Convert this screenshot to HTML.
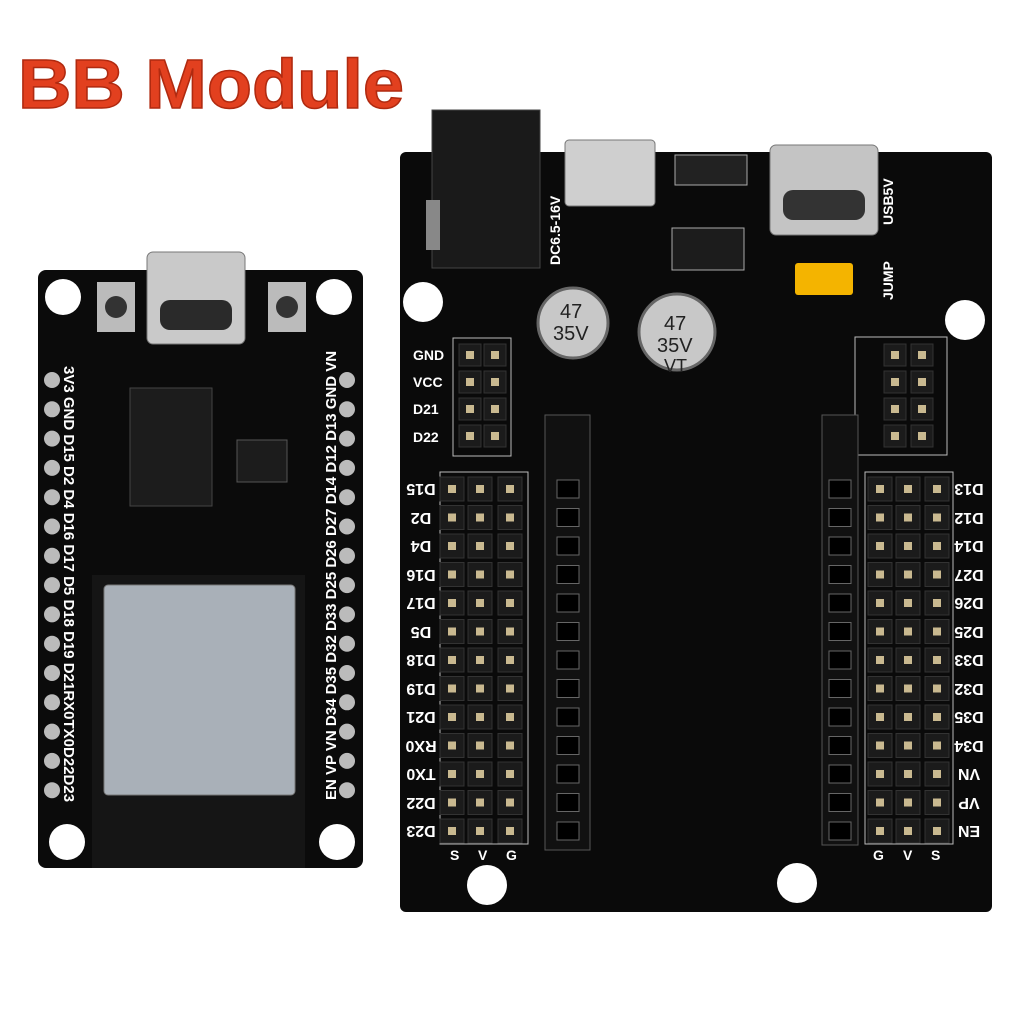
<!DOCTYPE html>
<html><head><meta charset="utf-8"><style>
html,body{margin:0;padding:0;background:#fff;width:1024px;height:1024px;overflow:hidden}
svg{display:block}
.t{font-family:"Liberation Sans",sans-serif;font-weight:bold;fill:#fff}
.r text{text-anchor:middle}
</style></head><body>
<svg id="s" width="1024" height="1024" viewBox="0 0 1024 1024" xmlns="http://www.w3.org/2000/svg">
<rect width="1024" height="1024" fill="#fff"/>
<text x="18" y="108" font-family="Liberation Sans, sans-serif" font-weight="bold" font-size="70" fill="#e2401f" stroke="#b02a10" stroke-width="1.5" textLength="386" lengthAdjust="spacingAndGlyphs">BB Module</text>

<!-- LEFT BOARD -->
<rect x="38" y="270" width="325" height="598" rx="8" fill="#0b0b0b"/>
<rect x="147" y="252" width="98" height="92" rx="6" fill="#c9c9c9" stroke="#777"/>
<rect x="160" y="300" width="72" height="30" rx="10" fill="#2a2a2a"/>
<rect x="97" y="282" width="38" height="50" fill="#bbb"/><circle cx="116" cy="307" r="11" fill="#333"/>
<rect x="268" y="282" width="38" height="50" fill="#bbb"/><circle cx="287" cy="307" r="11" fill="#333"/>
<circle cx="63" cy="297" r="18" fill="#fff"/><circle cx="334" cy="297" r="18" fill="#fff"/>
<circle cx="67" cy="842" r="18" fill="#fff"/><circle cx="337" cy="842" r="18" fill="#fff"/>
<rect x="130" y="388" width="82" height="118" fill="#1c1c1c" stroke="#444"/>
<rect x="237" y="440" width="50" height="42" fill="#1c1c1c" stroke="#555"/>
<rect x="92" y="575" width="213" height="293" fill="#151515"/>
<rect x="104" y="585" width="191" height="210" rx="4" fill="#a9b0b8" stroke="#777"/>
<g id="lp"></g>
<g class="t" font-size="15">
<text transform="translate(64,366) rotate(90)">3V3 GND D15 D2  D4 D16 D17 D5 D18 D19 D21RX0TX0D22D23</text>
<text transform="translate(336,800) rotate(-90)">EN  VP  VN D34 D35 D32 D33 D25 D26 D27 D14 D12 D13 GND VN</text>
</g>

<!-- RIGHT BOARD -->
<rect x="400" y="152" width="592" height="760" rx="6" fill="#0a0a0a"/>
<rect x="432" y="110" width="108" height="158" fill="#1a1a1a" stroke="#444"/>
<rect x="426" y="200" width="14" height="50" fill="#888"/>
<rect x="565" y="140" width="90" height="66" rx="4" fill="#cfcfcf" stroke="#777"/>
<rect x="770" y="145" width="108" height="90" rx="6" fill="#c4c4c4" stroke="#777"/>
<rect x="783" y="190" width="82" height="30" rx="10" fill="#333"/>
<rect x="675" y="155" width="72" height="30" fill="#222" stroke="#aaa"/>
<rect x="672" y="228" width="72" height="42" fill="#1c1c1c" stroke="#aaa"/>
<rect x="795" y="263" width="58" height="32" rx="3" fill="#f4b400"/>
<circle cx="423" cy="302" r="20" fill="#fff"/><circle cx="965" cy="320" r="20" fill="#fff"/>
<circle cx="487" cy="885" r="20" fill="#fff"/><circle cx="797" cy="883" r="20" fill="#fff"/>
<circle cx="573" cy="323" r="35" fill="#c8c8c8" stroke="#666" stroke-width="3"/>
<circle cx="677" cy="332" r="38" fill="#c8c8c8" stroke="#666" stroke-width="3"/>
<g font-family="Liberation Sans,sans-serif" font-size="20" fill="#222"><text x="560" y="318">47</text><text x="553" y="340">35V</text><text x="664" y="330">47</text><text x="657" y="352">35V</text><text x="664" y="372" font-size="18">VT</text></g>
<rect x="453" y="338" width="58" height="118" fill="none" stroke="#bbb"/>
<rect x="855" y="337" width="92" height="118" fill="none" stroke="#bbb"/>
<rect x="440" y="472" width="88" height="372" fill="none" stroke="#bbb"/>
<rect x="865" y="472" width="88" height="372" fill="none" stroke="#bbb"/>
<rect x="545" y="415" width="45" height="435" fill="#111" stroke="#555"/>
<rect x="822" y="415" width="36" height="430" fill="#111" stroke="#555"/>
<g id="rp"></g>
<g class="t" font-size="14">
<text x="413" y="360">GND</text><text x="413" y="387">VCC</text><text x="413" y="414">D21</text><text x="413" y="442">D22</text>
<text x="450" y="860">S</text><text x="478" y="860">V</text><text x="506" y="860">G</text>
<text x="873" y="860">G</text><text x="903" y="860">V</text><text x="931" y="860">S</text>
<text transform="translate(560,265) rotate(-90)">DC6.5-16V</text>
<text transform="translate(893,225) rotate(-90)">USB5V</text>
<text transform="translate(893,300) rotate(-90)">JUMP</text>
</g>
<g class="t r" font-size="16">
<g transform="translate(421,0)">
<text transform="translate(0,484) rotate(180)">D15</text><text transform="translate(0,513) rotate(180)">D2</text><text transform="translate(0,541) rotate(180)">D4</text><text transform="translate(0,570) rotate(180)">D16</text><text transform="translate(0,598) rotate(180)">D17</text><text transform="translate(0,627) rotate(180)">D5</text><text transform="translate(0,655) rotate(180)">D18</text><text transform="translate(0,684) rotate(180)">D19</text><text transform="translate(0,712) rotate(180)">D21</text><text transform="translate(0,741) rotate(180)">RX0</text><text transform="translate(0,769) rotate(180)">TX0</text><text transform="translate(0,798) rotate(180)">D22</text><text transform="translate(0,826) rotate(180)">D23</text>
</g>
<g transform="translate(969,0)">
<text transform="translate(0,484) rotate(180)">D13</text><text transform="translate(0,513) rotate(180)">D12</text><text transform="translate(0,541) rotate(180)">D14</text><text transform="translate(0,570) rotate(180)">D27</text><text transform="translate(0,598) rotate(180)">D26</text><text transform="translate(0,627) rotate(180)">D25</text><text transform="translate(0,655) rotate(180)">D33</text><text transform="translate(0,684) rotate(180)">D32</text><text transform="translate(0,712) rotate(180)">D35</text><text transform="translate(0,741) rotate(180)">D34</text><text transform="translate(0,769) rotate(180)">VN</text><text transform="translate(0,798) rotate(180)">VP</text><text transform="translate(0,826) rotate(180)">EN</text>
</g>
</g>
</svg>
<script>
var ns="http://www.w3.org/2000/svg";
function c(g,x,y,r,f){var e=document.createElementNS(ns,"circle");e.setAttribute("cx",x);e.setAttribute("cy",y);e.setAttribute("r",r);e.setAttribute("fill",f);document.getElementById(g).appendChild(e);}
function rr(g,x,y,w,h,f,s){var e=document.createElementNS(ns,"rect");e.setAttribute("x",x);e.setAttribute("y",y);e.setAttribute("width",w);e.setAttribute("height",h);e.setAttribute("fill",f);if(s)e.setAttribute("stroke",s);document.getElementById(g).appendChild(e);}
for(var i=0;i<15;i++){c("lp",52,380+i*29.3,8,"#bbb");c("lp",347,380+i*29.3,8,"#bbb");}
for(var i=0;i<13;i++){var y=489+i*28.5;
 [452,480,510].forEach(function(x){rr("rp",x-12,y-12,24,24,"#1b1b1b","#333");rr("rp",x-4,y-4,8,8,"#c9b990");});
 [880,908,937].forEach(function(x){rr("rp",x-12,y-12,24,24,"#1b1b1b","#333");rr("rp",x-4,y-4,8,8,"#c9b990");});
 rr("rp",557,y-9,22,18,"#000","#666");rr("rp",829,y-9,22,18,"#000","#666");}
for(var i=0;i<4;i++){var y=355+i*27;[470,495].forEach(function(x){rr("rp",x-11,y-11,22,22,"#1b1b1b","#333");rr("rp",x-4,y-4,8,8,"#c9b990");});
 [895,922].forEach(function(x){rr("rp",x-11,y-11,22,22,"#1b1b1b","#333");rr("rp",x-4,y-4,8,8,"#c9b990");});}
</script>
</body></html>
